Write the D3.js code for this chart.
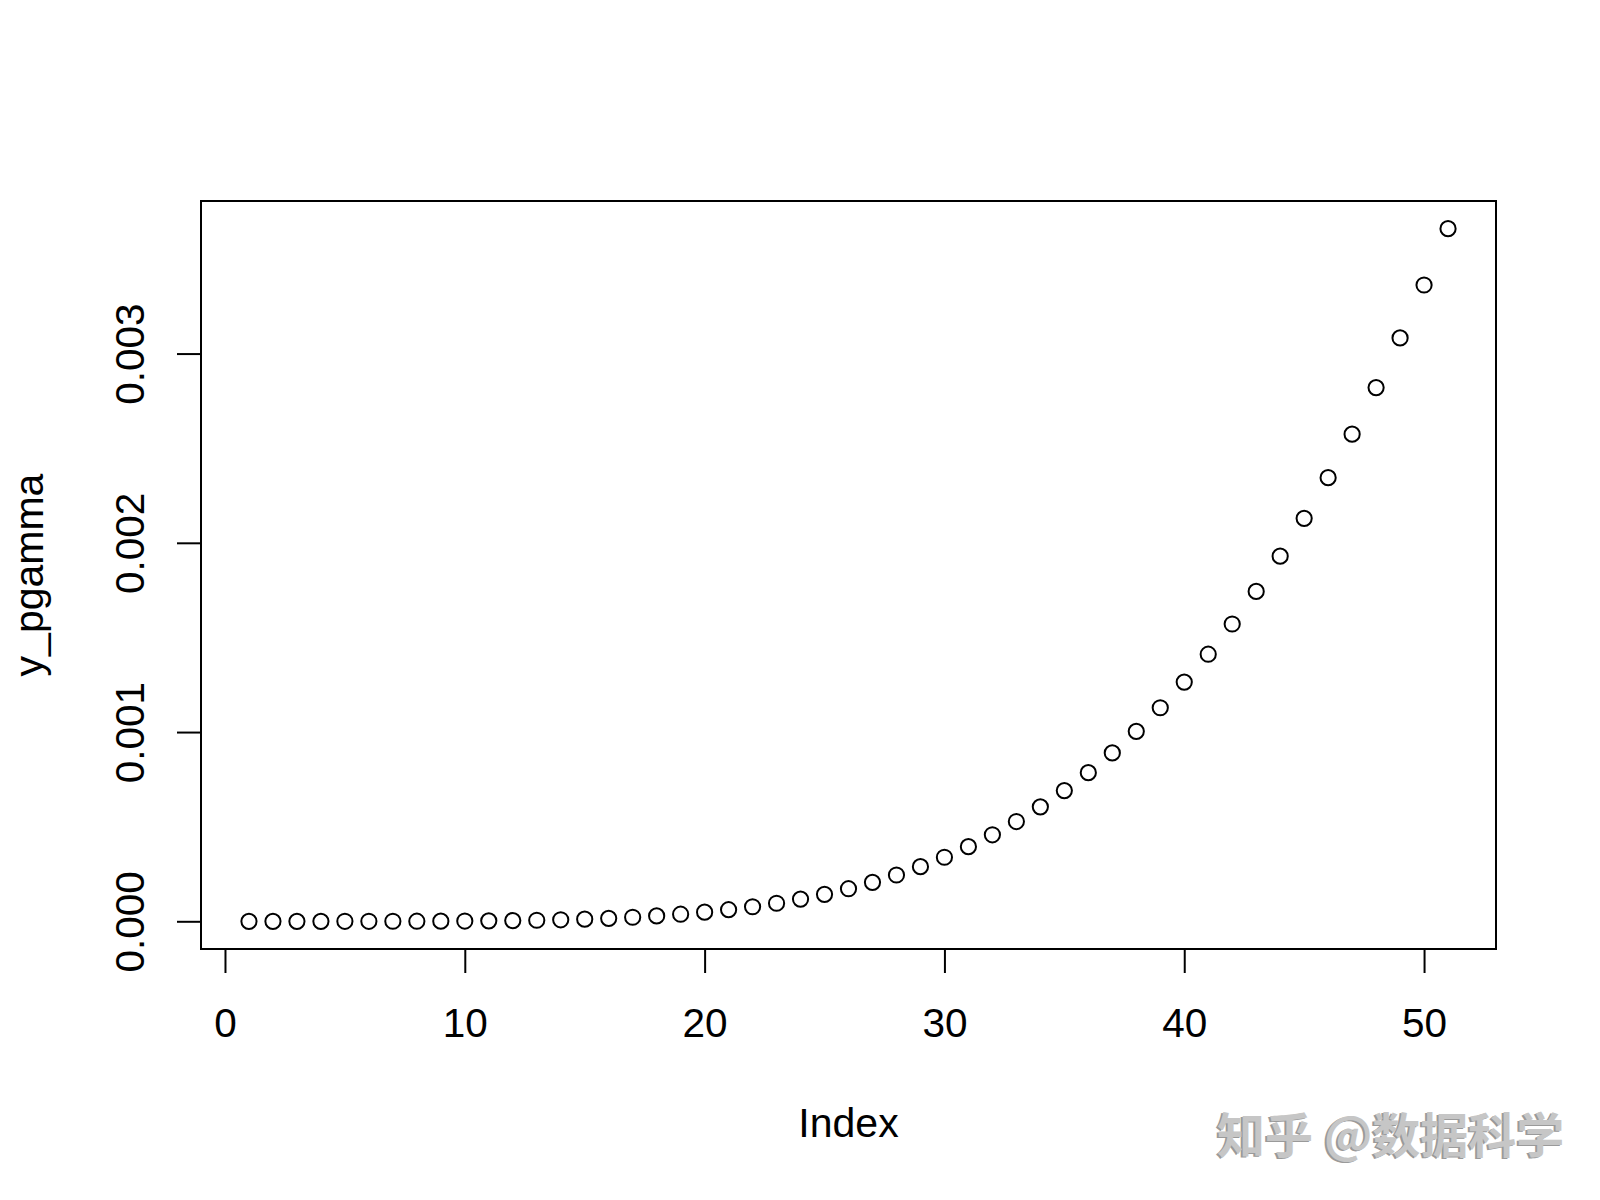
<!DOCTYPE html>
<html>
<head>
<meta charset="utf-8">
<script src="https://cdn.jsdelivr.net/npm/d3@7"></script>
<style>
  html, body { margin: 0; padding: 0; background: #fff; }
  svg { display: block; }
</style>
</head>
<body>
<svg id="chart" width="1600" height="1200"></svg>
<script>
// ---- data ----
const index = d3.range(1, 52);
const yPgamma = [
  0, 2.6e-11, 8.3e-10, 6.2e-9, 2.56e-8, 7.67e-8, 1.876e-7, 3.989e-7, 7.649e-7, 1.3558e-6,
  2.2582e-6, 3.5771e-6, 5.4359e-6, 7.978e-6, 1.13661e-5, 1.57852e-5, 2.1439e-5, 2.85543e-5, 3.73779e-5, 4.81776e-5,
  6.12436e-5, 7.6885e-5, 9.5433e-5, 1.17236e-4, 1.42667e-4, 1.72116e-4, 2.05985e-4, 2.4471e-4, 2.88724e-4, 3.38493e-4,
  3.94485e-4, 4.57192e-4, 5.27132e-4, 6.04813e-4, 6.90771e-4, 7.85536e-4, 8.89662e-4, 1.00373e-3, 1.12832e-3, 1.26397e-3,
  1.4113e-3, 1.5709e-3, 1.74337e-3, 1.92931e-3, 2.12934e-3, 2.34408e-3, 2.57414e-3, 2.82012e-3, 3.08259e-3, 3.36229e-3,
  3.65982e-3
];
const xTicks = [0, 10, 20, 30, 40, 50];
const yTicks = [0, 0.001, 0.002, 0.003];
const yTickLabels = ["0.000", "0.001", "0.002", "0.003"];
const xLabel = "Index";
const yLabel = "y_pgamma";
const watermark = "知乎 @数据科学";

// ---- layout ----
const plot = { left: 201, top: 201, right: 1496, bottom: 949 };
const font = "'Liberation Sans', Arial, sans-serif";

const svg = d3.select("#chart");
svg.append("rect").attr("width", 1600).attr("height", 1200).attr("fill", "#fff");

// R-style 4% padding on the data range
const xExt = d3.extent(index), yExt = d3.extent(yPgamma);
const xPad = (xExt[1] - xExt[0]) * 0.04, yPad = (yExt[1] - yExt[0]) * 0.04;
const x = d3.scaleLinear().domain([xExt[0] - xPad, xExt[1] + xPad]).range([plot.left, plot.right]);
const y = d3.scaleLinear().domain([yExt[0] - yPad, yExt[1] + yPad]).range([plot.bottom, plot.top]);

// x axis
const xAxis = d3.axisBottom(x).tickValues(xTicks).tickSize(24).tickPadding(0).tickFormat(d3.format("d"));
const gx = svg.append("g").attr("transform", `translate(0,${plot.bottom})`).call(xAxis);
gx.select(".domain").remove();
gx.selectAll(".tick line").attr("stroke", "#000").attr("stroke-width", 2);
gx.selectAll(".tick text")
  .attr("y", 88).attr("dy", null)
  .attr("font-family", font).attr("font-size", 40.5).attr("fill", "#000");

// y axis
const yAxis = d3.axisLeft(y).tickValues(yTicks).tickSize(24).tickFormat((d, i) => yTickLabels[i]);
const gy = svg.append("g").attr("transform", `translate(${plot.left},0)`).call(yAxis);
gy.select(".domain").remove();
gy.selectAll(".tick line").attr("stroke", "#000").attr("stroke-width", 2);
gy.selectAll(".tick text")
  .attr("x", null).attr("dy", null)
  .attr("transform", "translate(-57,0) rotate(-90)")
  .attr("text-anchor", "middle")
  .attr("font-family", font).attr("font-size", 40.5).attr("fill", "#000");

// points
svg.append("g").selectAll("circle")
  .data(index)
  .join("circle")
  .attr("cx", (d) => x(d))
  .attr("cy", (d, i) => y(yPgamma[i]))
  .attr("r", 7.6)
  .attr("fill", "none")
  .attr("stroke", "#000")
  .attr("stroke-width", 2);

// frame
svg.append("rect")
  .attr("x", plot.left).attr("y", plot.top)
  .attr("width", plot.right - plot.left).attr("height", plot.bottom - plot.top)
  .attr("fill", "none").attr("stroke", "#000").attr("stroke-width", 2);

// axis titles
svg.append("text")
  .attr("x", (plot.left + plot.right) / 2).attr("y", 1137)
  .attr("text-anchor", "middle")
  .attr("font-family", font).attr("font-size", 41).attr("fill", "#000")
  .text(xLabel);

svg.append("text")
  .attr("transform", `translate(43,${(plot.top + plot.bottom) / 2}) rotate(-90)`)
  .attr("text-anchor", "middle")
  .attr("font-family", font).attr("font-size", 41).attr("fill", "#000")
  .text(yLabel);

// watermark
const wm = svg.append("g").attr("font-family", "'Noto Sans CJK SC', sans-serif")
  .attr("font-size", 48).attr("font-weight", "bold");
wm.append("text").attr("x", 1215).attr("y", 1154).attr("fill", "#9a9a9a").text(watermark);
wm.append("text").attr("x", 1217).attr("y", 1153).attr("fill", "#c6c6c6").text(watermark);
</script>
</body>
</html>
